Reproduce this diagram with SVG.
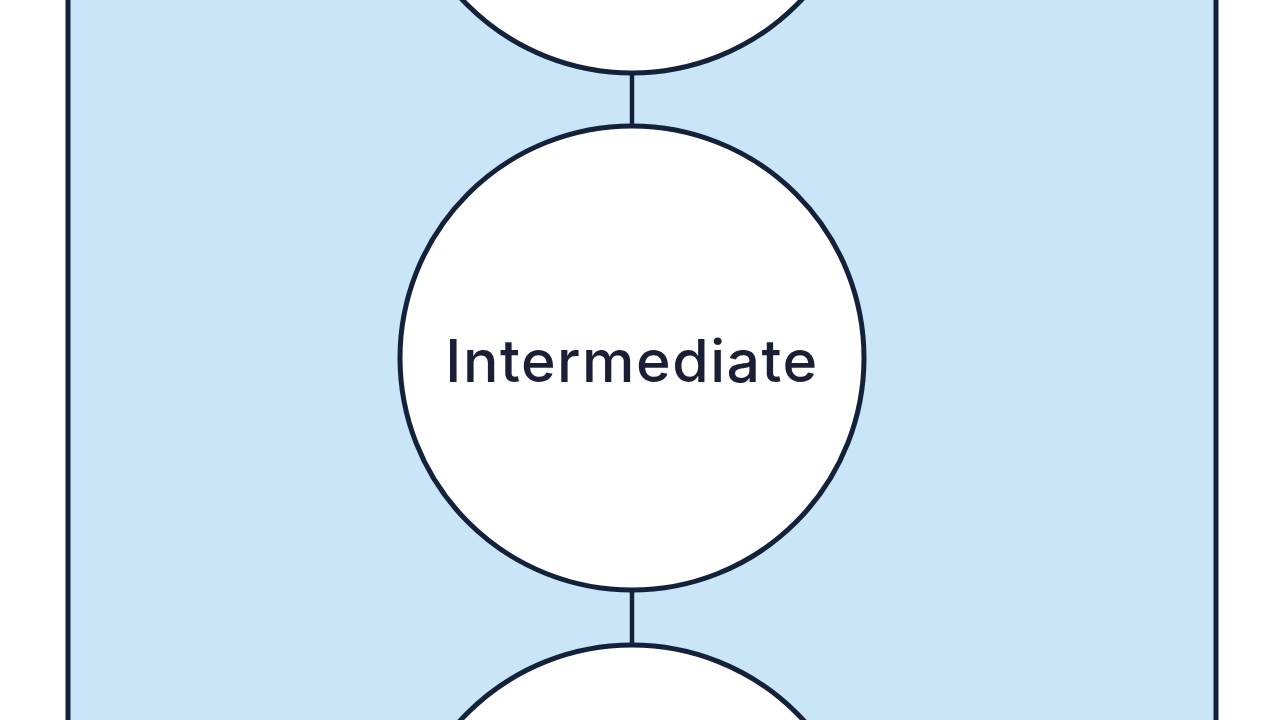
<svg xmlns="http://www.w3.org/2000/svg" width="1280" height="720" viewBox="0 0 1280 720">
<style>
.node{fill:#ffffff;stroke:#14213a;stroke-width:5}
.edge{stroke:#14213a;stroke-width:4.5;fill:none}
.lbl{font-family:Inter,"Noto Sans",sans-serif;font-size:59px;font-weight:500;letter-spacing:1.5px;fill:#1a1f36;text-anchor:middle}
</style>
<rect x="0" y="0" width="1280" height="720" fill="#ffffff"/>
<rect id="frame" x="68" y="-10" width="1148" height="740" fill="#c9e5f7" stroke="#14213a" stroke-width="5"/>
<g id="connectors">
<line class="edge" x1="632" y1="73" x2="632" y2="127"/>
<line class="edge" x1="632" y1="590" x2="632" y2="645"/>
</g>
<g id="node-top"><circle class="node" cx="632" cy="-160" r="233"/></g>
<g id="node-intermediate"><circle class="node" cx="632" cy="358" r="232"/>
<text class="lbl" x="632" y="382">Intermediate</text></g>
<g id="node-bottom"><circle class="node" cx="632" cy="878" r="233"/></g>
</svg>
